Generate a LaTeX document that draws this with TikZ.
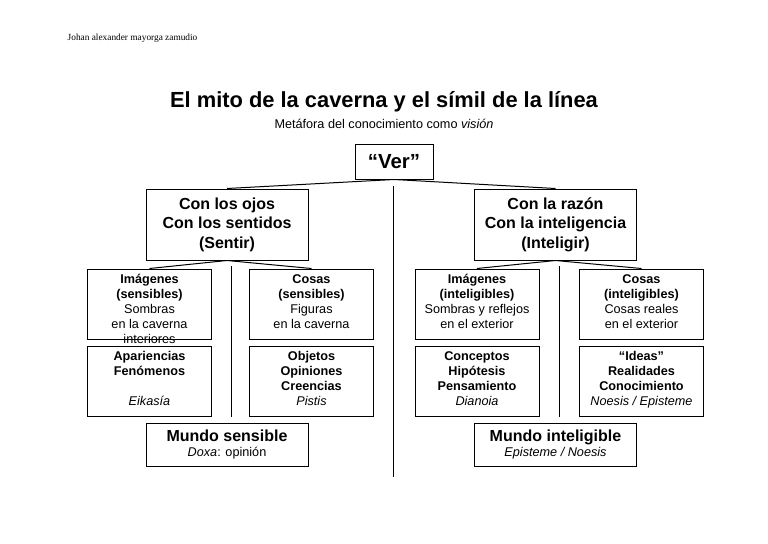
\documentclass[tikz,border=0pt]{standalone}
\usepackage{fontspec}
\setmainfont{Liberation Sans}
\newfontfamily\hdrfont{Liberation Serif}
\usetikzlibrary{positioning}
% one line of a cell, always 11.25pt high
\newcommand{\cl}{\rule[-4.25pt]{0pt}{11.25pt}}

\begin{document}
\begin{tikzpicture}[x=0.75pt,y=-0.75pt,
      box/.style={draw,line width=0.75pt,inner sep=0pt,align=center},
      verbox/.style={box,minimum width=58.5pt,minimum height=26.25pt,font=\fontsize{15.3}{18}\selectfont\bfseries},
      topbox/.style={box,minimum width=121.5pt,minimum height=53.25pt,font=\fontsize{12}{14.6}\selectfont\bfseries},
      cell/.style={box,minimum width=93pt,minimum height=52.5pt,font=\fontsize{9.5}{11.25}\selectfont},
      world/.style={box,minimum width=121.5pt,minimum height=32.25pt,font=\fontsize{9.5}{11.25}\selectfont},
      link/.style={line width=0.75pt}]
    \useasboundingbox (0,0) rectangle (768,543);
    % heading
    \node[font=\hdrfont\fontsize{7}{9}\selectfont,anchor=west] (author) at (63,38) {Johan alexander mayorga zamudio};
    \node[font=\fontsize{16.4}{19}\selectfont\bfseries] (title) at (384,102) {El mito de la caverna y el símil de la línea};
    \node[font=\fontsize{9.5}{11}\selectfont] (subtitle) at (384,124) {Metáfora del conocimiento como \textit{visión}};
    % "Ver" and the two ways of seeing
    \node[verbox] (ver) at (394,161.5) {“Ver”};
    \node[topbox] (sentir) at (227,224.5) {Con los ojos\\Con los sentidos\\(Sentir)};
    \node[topbox] (inteligir) at (555.5,224.5) {Con la razón\\Con la inteligencia\\(Inteligir)};
    \draw[link] (ver.south) -- (sentir.north);
    \draw[link] (ver.south) -- (inteligir.north);
    % images / things
    \node[cell] (imgS) at (149.5,304) {\cl\textbf{Imágenes}\\\cl\textbf{(sensibles)}\\\cl Sombras\\\cl en la caverna};
    \node[font=\fontsize{9.5}{11.25}\selectfont] (interiores) at (149.5,339) {interiores};
    \node[cell] (cosS) at (311.5,304) {\cl\textbf{Cosas}\\\cl\textbf{(sensibles)}\\\cl Figuras\\\cl en la caverna};
    \node[cell] (imgI) at (477,304) {\cl\textbf{Imágenes}\\\cl\textbf{(inteligibles)}\\\cl Sombras y reflejos\\\cl en el exterior};
    \node[cell] (cosI) at (641.5,304) {\cl\textbf{Cosas}\\\cl\textbf{(inteligibles)}\\\cl Cosas reales\\\cl en el exterior};
    \draw[link] (sentir.south) -- (imgS.north);
    \draw[link] (sentir.south) -- (cosS.north);
    \draw[link] (inteligir.south) -- (imgI.north);
    \draw[link] (inteligir.south) -- (cosI.north);
    % degrees of knowledge
    \node[cell] (apar) at (149.5,381) {\cl\textbf{Apariencias}\\\cl\textbf{Fenómenos}\\\cl\\\cl\textit{Eikasía}};
    \node[cell] (obj) at (311.5,381) {\cl\textbf{Objetos}\\\cl\textbf{Opiniones}\\\cl\textbf{Creencias}\\\cl\textit{Pistis}};
    \node[cell] (conc) at (477,381) {\cl\textbf{Conceptos}\\\cl\textbf{Hipótesis}\\\cl\textbf{Pensamiento}\\\cl\textit{Dianoia}};
    \node[cell] (ideas) at (641.5,381) {\cl\textbf{“Ideas”}\\\cl\textbf{Realidades}\\\cl\textbf{Conocimiento}\\\cl\textit{Noesis / Episteme}};
    % the two worlds
    \node[world] (msens) at (227,444.5) {{\fontsize{12}{14}\selectfont\bfseries Mundo sensible}\\\textit{Doxa}: opinión};
    \node[world] (mint) at (555.5,444.5) {{\fontsize{12}{14}\selectfont\bfseries Mundo inteligible}\\\textit{Episteme / Noesis}};
    % dividing lines
    \coordinate (midtop) at (393,186);
    \coordinate (midbot) at (393,477);
    \coordinate (ltop) at (231,266);
    \coordinate (lbot) at (231,417);
    \coordinate (rtop) at (559,266);
    \coordinate (rbot) at (559,417);
    \draw[link] (midtop) -- (midbot);
    \draw[link] (ltop) -- (lbot);
    \draw[link] (rtop) -- (rbot);
\end{tikzpicture}
\end{document}
